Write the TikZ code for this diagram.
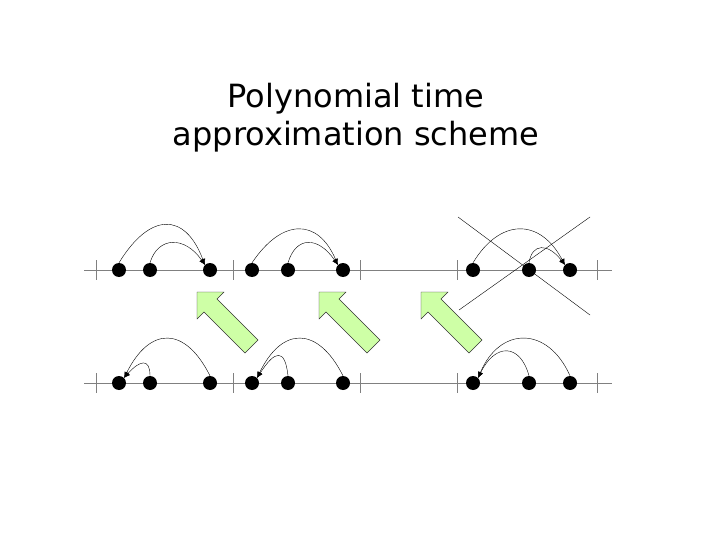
\documentclass[tikz,border=0pt]{standalone}
\usepackage{fontspec}
\setmainfont{DejaVu Sans}
\usetikzlibrary{arrows.meta}
\begin{document}
\begin{tikzpicture}[x=1pt, y=-1pt,
    dot/.style={circle, fill, inner sep=0pt, minimum size=14pt},
    jump/.style={-{Latex[length=6pt, width=5pt]}, thin},
    bigarrow/.style={fill=green!55!yellow!35, draw=black!80, thin}]
	\useasboundingbox (0, 0) rectangle (720, 540);
	% title
	\node[font=\fontsize{32}{38}\selectfont, align=center] (title) at (356, 118)
		{Polynomial time\\approximation scheme};
	% the two lines with their ticks
	\foreach \y/\r in {270/t, 383/b} {
		\draw[gray, thick] (84, \y) -- (612, \y);
		\foreach \x in {96, 233, 360, 457, 597}
			\draw[gray, thick] (\x, \y-10) -- (\x, \y+10);
		% the points
		\foreach \x/\n in {119/a, 150/b, 210/c, 252/d, 288/e, 343/f, 473/g, 529/h, 570/i}
			\node[dot] (\r\n) at (\x, \y) {};
	}
	% jumps on the upper line
	\draw[jump] (ta.north) .. controls (150, 212) and (185, 212) .. (tc.north west);
	\draw[jump] (tb.north) .. controls (158, 236) and (185, 236) .. (tc.north west);
	\draw[jump] (td.north) .. controls (282, 218) and (318, 218) .. (tf.north west);
	\draw[jump] (te.north) .. controls (296, 236) and (318, 236) .. (tf.north west);
	\draw[jump] (tg.north) .. controls (500, 218) and (540, 218) .. (ti.north west);
	\draw[jump] (th.north) .. controls (532, 243) and (548, 243) .. (ti.north west);
	% jumps on the lower line
	\draw[jump] (bc.north) .. controls (185, 326) and (150, 326) .. (ba.north east);
	\draw[jump] (bb.north) .. controls (150, 358) and (140, 360) .. (ba.north east);
	\draw[jump] (bf.north) .. controls (318, 326) and (282, 326) .. (bd.north east);
	\draw[jump] (be.north) .. controls (285, 348) and (275, 350) .. (bd.north east);
	\draw[jump] (bi.north) .. controls (548, 326) and (500, 326) .. (bg.north east);
	\draw[jump] (bh.north) .. controls (520, 343) and (495, 343) .. (bg.north east);
	% the cross over the last part
	\draw (458, 217) -- (590, 315);
	\draw (590, 217) -- (459, 310);
	% green arrows
	\foreach \x in {197, 319, 421}
		\draw[bigarrow] (\x, 292) -- ++(27, 0) -- ++(-7, 7) -- ++(41, 41) -- ++(-13, 13)
			-- ++(-41, -41) -- ++(-7, 7) -- cycle;
\end{tikzpicture}
\end{document}
